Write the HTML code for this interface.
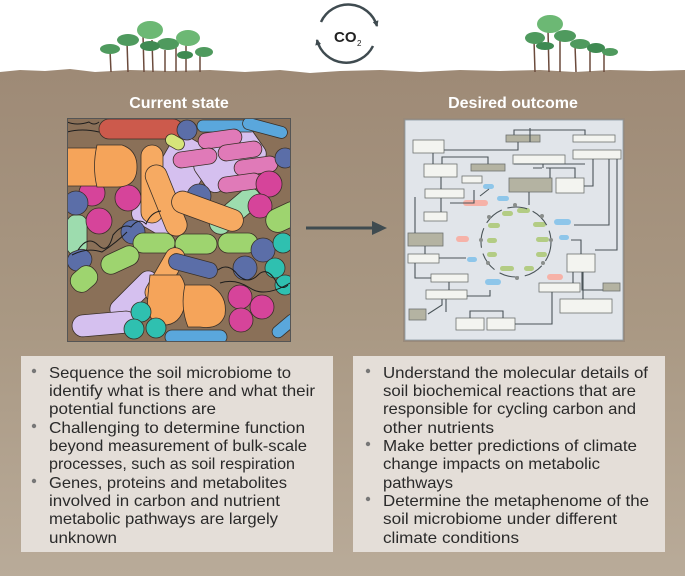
<!DOCTYPE html>
<html><head><meta charset="utf-8"><style>
html,body{margin:0;padding:0;background:#fff}
svg{display:block}
text{font-family:"Liberation Sans",sans-serif}
</style></head><body>
<svg width="685" height="576" viewBox="0 0 685 576" xmlns="http://www.w3.org/2000/svg">
<defs>
<linearGradient id="soil" x1="0" y1="0" x2="0" y2="1">
<stop offset="0" stop-color="#9e8a76"/><stop offset="0.5" stop-color="#a99883"/><stop offset="1" stop-color="#b9ab99"/>
</linearGradient>
<marker id="ah" markerWidth="6" markerHeight="6" refX="5" refY="3" orient="auto" markerUnits="userSpaceOnUse"><path d="M0,0 L6,3 L0,6 z" fill="#3f4b50"/></marker>
</defs>
<rect width="685" height="576" fill="#fff"/>
<path d="M0,72 L20,70 L45,71 L70,69 L95,72 L130,70 L170,71 L210,70 L245,72 L280,70 L310,73 L340,71 L380,70 L420,72 L460,70 L500,71 L540,70 L575,72 L610,70 L650,71 L685,70 L685,576 L0,576 z" fill="url(#soil)"/>
<!-- trees -->
<g stroke="#6b4a3c" stroke-width="1.5">
<line x1="110" y1="50" x2="111" y2="72"/><line x1="127" y1="42" x2="128" y2="72"/><line x1="143" y1="35" x2="144" y2="72"/><line x1="152" y1="40" x2="153" y2="72"/><line x1="165" y1="50" x2="165" y2="72"/><line x1="176" y1="45" x2="176" y2="72"/><line x1="186" y1="40" x2="186" y2="72"/><line x1="200" y1="52" x2="200" y2="72"/>
<line x1="534" y1="40" x2="535" y2="72"/><line x1="548" y1="30" x2="549" y2="72"/><line x1="560" y1="38" x2="560" y2="72"/><line x1="575" y1="45" x2="576" y2="72"/><line x1="590" y1="48" x2="590" y2="72"/><line x1="604" y1="52" x2="604" y2="72"/>
</g>
<g fill="#4f9a5e">
<ellipse cx="110" cy="49" rx="10" ry="5"/><ellipse cx="128" cy="40" rx="11" ry="6"/><ellipse cx="150" cy="30" rx="13" ry="9" fill="#6cb874"/><ellipse cx="168" cy="44" rx="11" ry="6"/><ellipse cx="188" cy="38" rx="12" ry="8" fill="#6cb874"/><ellipse cx="204" cy="52" rx="9" ry="5"/><ellipse cx="150" cy="46" rx="10" ry="5" fill="#3f8a52"/><ellipse cx="185" cy="55" rx="8" ry="4" fill="#3f8a52"/>
<ellipse cx="535" cy="38" rx="10" ry="6"/><ellipse cx="550" cy="24" rx="13" ry="9" fill="#6cb874"/><ellipse cx="565" cy="36" rx="11" ry="6"/><ellipse cx="580" cy="44" rx="10" ry="5"/><ellipse cx="596" cy="48" rx="9" ry="5" fill="#3f8a52"/><ellipse cx="610" cy="52" rx="8" ry="4"/><ellipse cx="545" cy="46" rx="9" ry="4" fill="#3f8a52"/>
</g>
<!-- CO2 cycle -->
<g fill="none" stroke="#3f4b50" stroke-width="2.5">
<path d="M321,22 A30,30 0 0 1 377,26" marker-end="url(#ah)"/>
<path d="M373,46 A30,30 0 0 1 317,40" marker-end="url(#ah)"/>
</g>
<text x="334" y="42" font-size="15" fill="#222" font-weight="bold">CO</text>
<text x="357" y="46" font-size="8" fill="#222">2</text>
<!-- titles -->
<text x="179" y="108" font-size="16" font-weight="bold" fill="#fff" text-anchor="middle">Current state</text>
<text x="513" y="108" font-size="16" font-weight="bold" fill="#fff" text-anchor="middle">Desired outcome</text>
<!-- left microbe box -->
<svg x="67" y="118" width="224" height="224" viewBox="67 118 224 224">
<rect x="67" y="118" width="224" height="224" fill="#8a7058"/>
<g stroke="#3a3028" stroke-width="0.8">
<rect x="150" y="135" width="45" height="100" rx="10" fill="#d5c0ef" transform="rotate(30 172 185)"/>
<rect x="195" y="140" width="70" height="40" rx="10" fill="#d5c0ef" transform="rotate(-35 230 160)"/>
<rect x="205" y="200" width="60" height="22" rx="11" fill="#9ddcae" transform="rotate(-40 235 211)"/>
<rect x="67" y="215" width="20" height="40" rx="8" fill="#9ddcae"/>
<rect x="99" y="119" width="84" height="20" rx="10" fill="#cc5a4c"/>
<rect x="197" y="120" width="60" height="12" rx="6" fill="#5aa7dc"/>
<rect x="242" y="122" width="46" height="12" rx="6" fill="#5aa7dc" transform="rotate(15 265 128)"/>
<circle cx="187" cy="130" r="10" fill="#5b6ea8"/>
<rect x="165" y="136" width="20" height="12" rx="6" fill="#d6e47a" transform="rotate(30 175 142)"/>
<rect x="198" y="131" width="44" height="16" rx="8" fill="#e07ab8" transform="rotate(-8 220 139)"/>
<rect x="218" y="143" width="44" height="16" rx="8" fill="#e07ab8" transform="rotate(-8 240 151)"/>
<rect x="173" y="150" width="44" height="16" rx="8" fill="#e07ab8" transform="rotate(-8 195 158)"/>
<rect x="234" y="158" width="44" height="16" rx="8" fill="#e07ab8" transform="rotate(-8 256 166)"/>
<rect x="218" y="175" width="44" height="16" rx="8" fill="#e07ab8" transform="rotate(-8 240 183)"/>
<circle cx="285" cy="158" r="10" fill="#5b6ea8"/>
<circle cx="269" cy="184" r="13" fill="#d6449a"/>
<circle cx="260" cy="206" r="12" fill="#d6449a"/>
<rect x="265" y="205" width="40" height="24" rx="12" fill="#9ed46f" transform="rotate(-25 285 217)"/>
<circle cx="92" cy="193" r="13" fill="#d6449a"/>
<circle cx="76" cy="203" r="12" fill="#5b6ea8"/>
<circle cx="128" cy="198" r="13" fill="#d6449a"/>
<circle cx="99" cy="221" r="13" fill="#d6449a"/>
<circle cx="199" cy="196" r="12" fill="#5b6ea8"/>
<path d="M75,148 h20 q10,0 10,10 v20 q0,8 -10,8 h-28 v-38z" fill="#f5a45a"/>
<path d="M97,145 h25 q15,5 15,22 q0,20 -20,20 h-20 q-5,-20 0,-42z" fill="#f5a45a"/>
<rect x="141" y="145" width="22" height="78" rx="11" fill="#f6aa62"/>
<rect x="155" y="163" width="22" height="75" rx="11" fill="#f6aa62" transform="rotate(-22 166 200)"/>
<rect x="170" y="200" width="75" height="22" rx="11" fill="#f6aa62" transform="rotate(20 207 211)"/>
<circle cx="133" cy="232" r="12" fill="#5b6ea8"/>
<rect x="133" y="233" width="42" height="20" rx="10" fill="#9ed46f"/>
<rect x="175" y="234" width="42" height="20" rx="10" fill="#9ed46f"/>
<rect x="218" y="233" width="40" height="20" rx="10" fill="#9ed46f"/>
<circle cx="263" cy="250" r="12" fill="#5b6ea8"/>
<circle cx="283" cy="243" r="10" fill="#2fc0b0"/>
<circle cx="275" cy="268" r="10" fill="#2fc0b0"/>
<circle cx="285" cy="285" r="10" fill="#2fc0b0"/>
<rect x="100" y="250" width="40" height="20" rx="10" fill="#9ed46f" transform="rotate(-25 120 260)"/>
<rect x="67" y="250" width="25" height="20" rx="10" fill="#5b6ea8" transform="rotate(-20 80 260)"/>
<rect x="70" y="268" width="28" height="22" rx="10" fill="#9ed46f" transform="rotate(-40 84 279)"/>
<rect x="104" y="285" width="60" height="20" rx="10" fill="#d5c0ef" transform="rotate(-45 134 295)"/>
<rect x="135" y="265" width="60" height="20" rx="10" fill="#f6aa62" transform="rotate(-60 165 275)"/>
<rect x="168" y="258" width="50" height="16" rx="8" fill="#5b6ea8" transform="rotate(15 193 266)"/>
<circle cx="245" cy="268" r="12" fill="#5b6ea8"/>
<path d="M150,275 h30 q8,10 5,30 q-5,22 -25,20 q-15,-5 -12,-30 z" fill="#f5a45a"/>
<path d="M185,285 h25 q18,10 15,30 q-5,15 -25,12 h-12 q-8,-20 -3,-42 z" fill="#f5a45a"/>
<circle cx="240" cy="297" r="12" fill="#d6449a"/>
<circle cx="262" cy="307" r="12" fill="#d6449a"/>
<circle cx="241" cy="320" r="12" fill="#d6449a"/>
<rect x="72" y="313" width="65" height="22" rx="11" fill="#d5c0ef" transform="rotate(-5 104 324)"/>
<circle cx="141" cy="312" r="10" fill="#2fc0b0"/>
<circle cx="134" cy="329" r="10" fill="#2fc0b0"/>
<circle cx="156" cy="328" r="10" fill="#2fc0b0"/>
<rect x="165" y="330" width="62" height="14" rx="7" fill="#5aa7dc"/>
<rect x="270" y="320" width="30" height="12" rx="6" fill="#5aa7dc" transform="rotate(-40 285 326)"/>
</g>
<g fill="none" stroke="#1d1d1d" stroke-width="1">
<path d="M67,122 q10,4 22,0 q5,4 10,0 M67,132 q15,-4 32,0"/>
<path d="M78,250 q10,-15 20,-5 q10,10 15,-10 q10,-12 18,-8 q8,-10 15,-3 q5,-12 15,-13"/>
<path d="M72,255 q15,-8 30,-3 q15,-10 25,-20"/>
<path d="M218,270 q10,-8 20,5 q10,10 20,0 q10,-10 20,10 q5,5 10,0"/>
<path d="M220,283 q15,-5 30,5 q15,10 40,-5"/>
</g>
<rect x="67.5" y="118.5" width="223" height="223" fill="none" stroke="#555" stroke-width="1"/>
</svg>
<!-- arrow -->
<line x1="306" y1="228" x2="376" y2="228" stroke="#3f4b50" stroke-width="3"/>
<path d="M372,221 L387,228 L372,235 z" fill="#3f4b50"/>
<!-- right diagram -->
<rect x="403" y="118" width="222" height="224" fill="#9a8a7a"/>
<rect x="405" y="120" width="218" height="220" fill="#e1e5ea"/>
<g fill="#f3f4f0" stroke="#6e7270" stroke-width="0.8">
<rect x="413" y="140" width="31" height="13"/>
<rect x="573" y="135" width="42" height="7"/>
<rect x="573" y="150" width="48" height="9"/>
<rect x="513" y="155" width="52" height="9"/>
<rect x="424" y="164" width="33" height="13"/>
<rect x="462" y="176" width="20" height="7"/>
<rect x="556" y="178" width="28" height="15"/>
<rect x="425" y="189" width="39" height="9"/>
<rect x="424" y="212" width="23" height="9"/>
<rect x="408" y="254" width="31" height="9"/>
<rect x="431" y="274" width="37" height="8"/>
<rect x="426" y="290" width="41" height="9"/>
<rect x="456" y="318" width="28" height="12"/>
<rect x="487" y="318" width="28" height="12"/>
<rect x="539" y="283" width="41" height="9"/>
<rect x="567" y="254" width="28" height="18"/>
<rect x="560" y="299" width="52" height="14"/>
</g>
<g fill="#b4b3a2" stroke="#6e7270" stroke-width="0.8">
<rect x="506" y="135" width="34" height="7"/>
<rect x="471" y="164" width="34" height="7"/>
<rect x="509" y="178" width="43" height="14"/>
<rect x="408" y="233" width="35" height="13"/>
<rect x="409" y="309" width="17" height="11"/>
<rect x="603" y="283" width="17" height="8"/>
</g>
<g fill="#8ec6ea">
<rect x="483" y="184" width="11" height="5" rx="2.5"/><rect x="497" y="196" width="12" height="5" rx="2.5"/><rect x="554" y="219" width="17" height="6" rx="3"/><rect x="559" y="235" width="10" height="5" rx="2.5"/><rect x="467" y="257" width="10" height="5" rx="2.5"/><rect x="485" y="279" width="16" height="6" rx="3"/>
</g>
<g fill="#f6b2a8">
<rect x="463" y="200" width="25" height="6" rx="3"/><rect x="456" y="236" width="13" height="6" rx="3"/><rect x="547" y="274" width="16" height="6" rx="3"/>
</g>
<g fill="#b3cc84">
<rect x="502" y="211" width="11" height="5" rx="2.5"/><rect x="517" y="208" width="13" height="5" rx="2.5"/><rect x="533" y="222" width="13" height="5" rx="2.5"/><rect x="536" y="237" width="13" height="5" rx="2.5"/><rect x="536" y="252" width="11" height="5" rx="2.5"/><rect x="524" y="266" width="10" height="5" rx="2.5"/><rect x="500" y="266" width="14" height="5" rx="2.5"/><rect x="487" y="252" width="10" height="5" rx="2.5"/><rect x="487" y="238" width="10" height="5" rx="2.5"/><rect x="488" y="223" width="12" height="5" rx="2.5"/>
</g>
<g fill="none" stroke="#4a5458" stroke-width="1.1">
<circle cx="516" cy="242" r="35" stroke-dasharray="20 6"/>
<path d="M444,150 H518 V142 M530,142 V128 M514,135 V130 H585 V135 M514,164 H585"/>
<path d="M533,168 H542 M550,168 V178 M543,168 V164 M546,168 H575 V178 M584,186 H593 V159 M609,159 V225 H574 M617,159 V250 H595"/>
<path d="M433,153 V164 M442,164 V157 H488 V164 M441,177 V189 M441,198 V212 M450,203 H474 V190 M415,197 V233 M425,246 V254 M439,258 H466 M415,263 V278 H431 M449,282 V290 M467,296 H490 V290 M442,299 V305 L428,314 M446,299 V312 M470,318 V311 H503 V318 M515,324 H552 V292 M582,272 V290 H603 M583,272 V299 M573,272 V283 M581,254 V240 H571"/>
<path d="M489,189 L480,196 M529,192 V205"/>
</g>
<rect x="405" y="120" width="218" height="220" fill="none" stroke="#8a98a2" stroke-width="0.8"/>
<g fill="#8a8e8c"><circle cx="515" cy="205" r="2"/><circle cx="542" cy="216" r="2"/><circle cx="551" cy="240" r="2"/><circle cx="543" cy="263" r="2"/><circle cx="517" cy="278" r="2"/><circle cx="488" cy="263" r="2"/><circle cx="481" cy="240" r="2"/><circle cx="489" cy="217" r="2"/></g>
<!-- text boxes -->
<rect x="21" y="356" width="312" height="196" fill="#e4ded8"/>
<rect x="353" y="356" width="312" height="196" fill="#e4ded8"/>
<g font-size="16" fill="#2a2a2a">
<circle cx="34" cy="371" r="2.2" fill="#777"/><circle cx="34" cy="426" r="2.2" fill="#777"/><circle cx="34" cy="481" r="2.2" fill="#777"/>
<text x="49" y="378" textLength="242" lengthAdjust="spacingAndGlyphs">Sequence the soil microbiome to</text>
<text x="49" y="396" textLength="266" lengthAdjust="spacingAndGlyphs">identify what is there and what their</text>
<text x="49" y="414" textLength="167" lengthAdjust="spacingAndGlyphs">potential functions are</text>
<text x="49" y="433" textLength="256" lengthAdjust="spacingAndGlyphs">Challenging to determine function</text>
<text x="49" y="451" textLength="258" lengthAdjust="spacingAndGlyphs">beyond measurement of bulk-scale</text>
<text x="49" y="469" textLength="246" lengthAdjust="spacingAndGlyphs">processes, such as soil respiration</text>
<text x="49" y="488" textLength="238" lengthAdjust="spacingAndGlyphs">Genes, proteins and metabolites</text>
<text x="49" y="506" textLength="231" lengthAdjust="spacingAndGlyphs">involved in carbon and nutrient</text>
<text x="49" y="524" textLength="229" lengthAdjust="spacingAndGlyphs">metabolic pathways are largely</text>
<text x="49" y="543" textLength="68" lengthAdjust="spacingAndGlyphs">unknown</text>
<circle cx="368" cy="371" r="2.2" fill="#777"/><circle cx="368" cy="444" r="2.2" fill="#777"/><circle cx="368" cy="499" r="2.2" fill="#777"/>
<text x="383" y="378" textLength="265" lengthAdjust="spacingAndGlyphs">Understand the molecular details of</text>
<text x="383" y="396" textLength="253" lengthAdjust="spacingAndGlyphs">soil biochemical reactions that are</text>
<text x="383" y="414" textLength="253" lengthAdjust="spacingAndGlyphs">responsible for cycling carbon and</text>
<text x="383" y="433" textLength="111" lengthAdjust="spacingAndGlyphs">other nutrients</text>
<text x="383" y="451" textLength="254" lengthAdjust="spacingAndGlyphs">Make better predictions of climate</text>
<text x="383" y="469" textLength="217" lengthAdjust="spacingAndGlyphs">change impacts on metabolic</text>
<text x="383" y="488" textLength="70" lengthAdjust="spacingAndGlyphs">pathways</text>
<text x="383" y="506" textLength="266" lengthAdjust="spacingAndGlyphs">Determine the metaphenome of the</text>
<text x="383" y="524" textLength="234" lengthAdjust="spacingAndGlyphs">soil microbiome under different</text>
<text x="383" y="543" textLength="136" lengthAdjust="spacingAndGlyphs">climate conditions</text>
</g>
</svg>
</body></html>
